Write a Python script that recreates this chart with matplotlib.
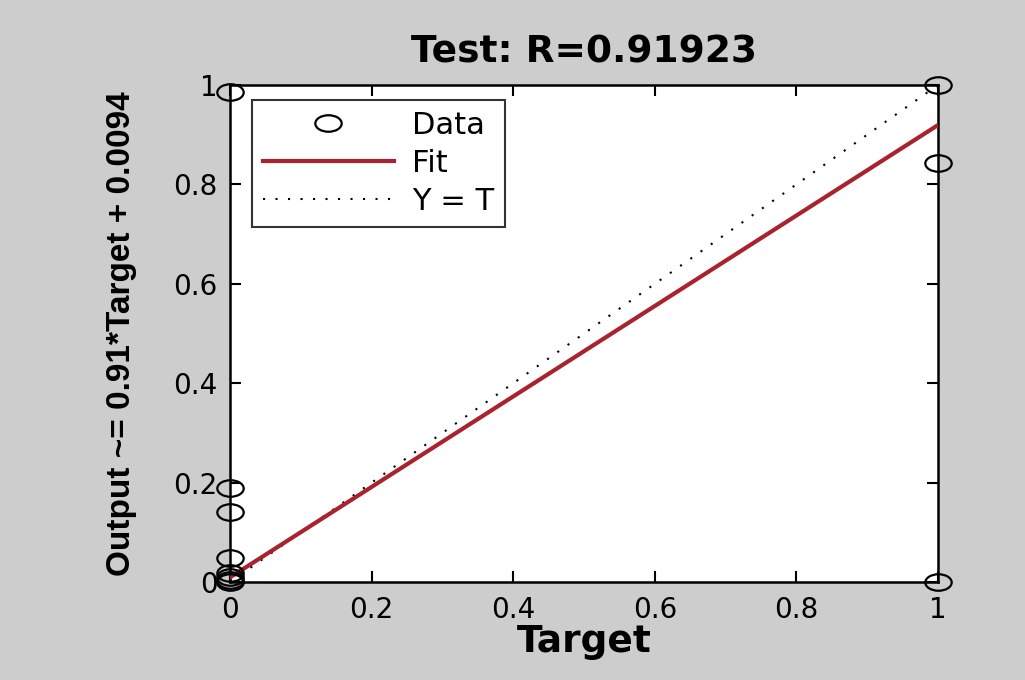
import numpy as np
import matplotlib.pyplot as plt
from matplotlib.path import Path

# test set targets / network outputs
targets = [0, 0, 0, 0, 0, 0, 0, 0, 1, 1, 1]
outputs = [0.0, 0.01, 0.018, 0.048, 0.141, 0.189, 0.986, 0.004, 1.0, 0.843, 0.0]
slope = 0.91
offset = 0.0094
r_value = 0.91923
ticks = [0, 0.2, 0.4, 0.6, 0.8, 1]
tick_labels = ["0", "0.2", "0.4", "0.6", "0.8", "1"]

plt.rcParams['font.family'] = ['DejaVu Sans']

# the original screenshot is stretched sideways -> wide circle marker
circ = Path.unit_circle()
ellipse = Path(circ.vertices * np.array([1.6, 1.0]), circ.codes)

fig = plt.figure(figsize=(10.25, 6.8), dpi=100, facecolor="#cdcdcd")
ax = fig.add_axes([0.2244, 0.144, 0.6907, 0.731])
ax.set_facecolor("white")

t_line = np.array([0, 1])
ax.plot(targets, outputs, ls="none", marker=ellipse, mfc="none", mec="black", ms=19,
        mew=1.6, label="Data", clip_on=False, zorder=4)
ax.plot(t_line, slope * t_line + offset, color="#a8232e", lw=3, label="Fit", zorder=3)
ax.plot(t_line, t_line, color="black", lw=1.5, dashes=(1, 5), label="Y = T", zorder=2)

ax.set_xlim(0, 1)
ax.set_ylim(0, 1)
ax.set_xticks(ticks)
ax.set_xticklabels(tick_labels)
ax.set_yticks(ticks)
ax.set_yticklabels(tick_labels)
ax.tick_params(direction="in", length=8, width=1.5, labelsize=20, top=True, right=True,
               pad=9)
ax.tick_params(axis="x", pad=10)
for s in ax.spines.values():
    s.set_linewidth(1.8)

ax.set_title("Test: R=%.5f" % r_value, fontsize=27, fontweight="bold", pad=16)
ax.set_xlabel("Target", fontsize=27, fontweight="bold", labelpad=0)
ax.set_ylabel("Output ~= %.2f*Target + %.4f" % (slope, offset), fontsize=24,
              fontweight="bold", family=["Liberation Sans"], labelpad=26)

leg = ax.legend(loc="upper left", bbox_to_anchor=(22 / 708, 1 - 15 / 497),
                borderaxespad=0, fontsize=22, frameon=True, fancybox=False,
                edgecolor="black", handlelength=4.3, handletextpad=0.6,
                borderpad=0.35, labelspacing=0.3)
leg.get_frame().set_linewidth(1.5)

fig.savefig("out.png", dpi=100, facecolor=fig.get_facecolor())
